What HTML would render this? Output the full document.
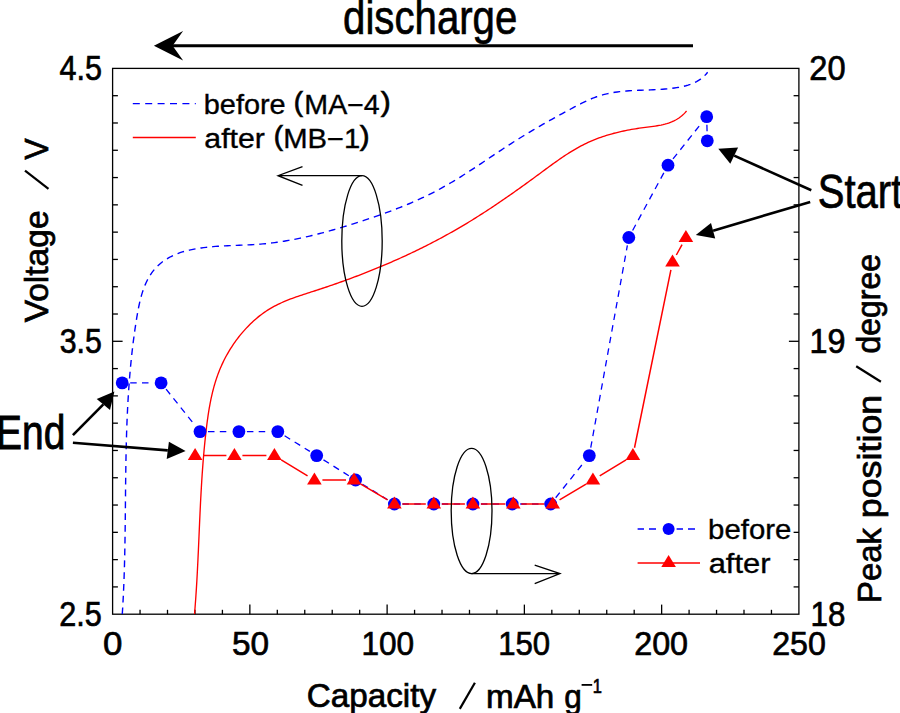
<!DOCTYPE html>
<html><head><meta charset="utf-8"><style>
html,body{margin:0;padding:0;background:#fff;}
body{width:900px;height:713px;overflow:hidden;}
svg{display:block;font-family:"Liberation Sans",sans-serif;}
text{stroke:#000;stroke-width:0.7px;}
</style></head><body>
<svg width="900" height="713" viewBox="0 0 900 713">
<rect x="112.6" y="68.4" width="686.30" height="545.80" fill="none" stroke="#000" stroke-width="1.3"/>
<line x1="140.05" y1="614.2" x2="140.05" y2="609.80" stroke="#000" stroke-width="1.3"/>
<line x1="167.50" y1="614.2" x2="167.50" y2="609.80" stroke="#000" stroke-width="1.3"/>
<line x1="194.96" y1="614.2" x2="194.96" y2="609.80" stroke="#000" stroke-width="1.3"/>
<line x1="222.41" y1="614.2" x2="222.41" y2="609.80" stroke="#000" stroke-width="1.3"/>
<line x1="249.86" y1="614.2" x2="249.86" y2="604.60" stroke="#000" stroke-width="1.3"/>
<line x1="277.31" y1="614.2" x2="277.31" y2="609.80" stroke="#000" stroke-width="1.3"/>
<line x1="304.76" y1="614.2" x2="304.76" y2="609.80" stroke="#000" stroke-width="1.3"/>
<line x1="332.22" y1="614.2" x2="332.22" y2="609.80" stroke="#000" stroke-width="1.3"/>
<line x1="359.67" y1="614.2" x2="359.67" y2="609.80" stroke="#000" stroke-width="1.3"/>
<line x1="387.12" y1="614.2" x2="387.12" y2="604.60" stroke="#000" stroke-width="1.3"/>
<line x1="414.57" y1="614.2" x2="414.57" y2="609.80" stroke="#000" stroke-width="1.3"/>
<line x1="442.02" y1="614.2" x2="442.02" y2="609.80" stroke="#000" stroke-width="1.3"/>
<line x1="469.48" y1="614.2" x2="469.48" y2="609.80" stroke="#000" stroke-width="1.3"/>
<line x1="496.93" y1="614.2" x2="496.93" y2="609.80" stroke="#000" stroke-width="1.3"/>
<line x1="524.38" y1="614.2" x2="524.38" y2="604.60" stroke="#000" stroke-width="1.3"/>
<line x1="551.83" y1="614.2" x2="551.83" y2="609.80" stroke="#000" stroke-width="1.3"/>
<line x1="579.28" y1="614.2" x2="579.28" y2="609.80" stroke="#000" stroke-width="1.3"/>
<line x1="606.74" y1="614.2" x2="606.74" y2="609.80" stroke="#000" stroke-width="1.3"/>
<line x1="634.19" y1="614.2" x2="634.19" y2="609.80" stroke="#000" stroke-width="1.3"/>
<line x1="661.64" y1="614.2" x2="661.64" y2="604.60" stroke="#000" stroke-width="1.3"/>
<line x1="689.09" y1="614.2" x2="689.09" y2="609.80" stroke="#000" stroke-width="1.3"/>
<line x1="716.54" y1="614.2" x2="716.54" y2="609.80" stroke="#000" stroke-width="1.3"/>
<line x1="744.00" y1="614.2" x2="744.00" y2="609.80" stroke="#000" stroke-width="1.3"/>
<line x1="771.45" y1="614.2" x2="771.45" y2="609.80" stroke="#000" stroke-width="1.3"/>
<line x1="112.6" y1="586.91" x2="117.90" y2="586.91" stroke="#000" stroke-width="1.3"/>
<line x1="798.9" y1="586.91" x2="793.60" y2="586.91" stroke="#000" stroke-width="1.3"/>
<line x1="112.6" y1="559.62" x2="117.90" y2="559.62" stroke="#000" stroke-width="1.3"/>
<line x1="798.9" y1="559.62" x2="793.60" y2="559.62" stroke="#000" stroke-width="1.3"/>
<line x1="112.6" y1="532.33" x2="117.90" y2="532.33" stroke="#000" stroke-width="1.3"/>
<line x1="798.9" y1="532.33" x2="793.60" y2="532.33" stroke="#000" stroke-width="1.3"/>
<line x1="112.6" y1="505.04" x2="117.90" y2="505.04" stroke="#000" stroke-width="1.3"/>
<line x1="798.9" y1="505.04" x2="793.60" y2="505.04" stroke="#000" stroke-width="1.3"/>
<line x1="112.6" y1="477.75" x2="117.90" y2="477.75" stroke="#000" stroke-width="1.3"/>
<line x1="798.9" y1="477.75" x2="793.60" y2="477.75" stroke="#000" stroke-width="1.3"/>
<line x1="112.6" y1="450.46" x2="117.90" y2="450.46" stroke="#000" stroke-width="1.3"/>
<line x1="798.9" y1="450.46" x2="793.60" y2="450.46" stroke="#000" stroke-width="1.3"/>
<line x1="112.6" y1="423.17" x2="117.90" y2="423.17" stroke="#000" stroke-width="1.3"/>
<line x1="798.9" y1="423.17" x2="793.60" y2="423.17" stroke="#000" stroke-width="1.3"/>
<line x1="112.6" y1="395.88" x2="117.90" y2="395.88" stroke="#000" stroke-width="1.3"/>
<line x1="798.9" y1="395.88" x2="793.60" y2="395.88" stroke="#000" stroke-width="1.3"/>
<line x1="112.6" y1="368.59" x2="117.90" y2="368.59" stroke="#000" stroke-width="1.3"/>
<line x1="798.9" y1="368.59" x2="793.60" y2="368.59" stroke="#000" stroke-width="1.3"/>
<line x1="112.6" y1="341.30" x2="122.60" y2="341.30" stroke="#000" stroke-width="1.3"/>
<line x1="798.9" y1="341.30" x2="788.90" y2="341.30" stroke="#000" stroke-width="1.3"/>
<line x1="112.6" y1="314.01" x2="117.90" y2="314.01" stroke="#000" stroke-width="1.3"/>
<line x1="798.9" y1="314.01" x2="793.60" y2="314.01" stroke="#000" stroke-width="1.3"/>
<line x1="112.6" y1="286.72" x2="117.90" y2="286.72" stroke="#000" stroke-width="1.3"/>
<line x1="798.9" y1="286.72" x2="793.60" y2="286.72" stroke="#000" stroke-width="1.3"/>
<line x1="112.6" y1="259.43" x2="117.90" y2="259.43" stroke="#000" stroke-width="1.3"/>
<line x1="798.9" y1="259.43" x2="793.60" y2="259.43" stroke="#000" stroke-width="1.3"/>
<line x1="112.6" y1="232.14" x2="117.90" y2="232.14" stroke="#000" stroke-width="1.3"/>
<line x1="798.9" y1="232.14" x2="793.60" y2="232.14" stroke="#000" stroke-width="1.3"/>
<line x1="112.6" y1="204.85" x2="117.90" y2="204.85" stroke="#000" stroke-width="1.3"/>
<line x1="798.9" y1="204.85" x2="793.60" y2="204.85" stroke="#000" stroke-width="1.3"/>
<line x1="112.6" y1="177.56" x2="117.90" y2="177.56" stroke="#000" stroke-width="1.3"/>
<line x1="798.9" y1="177.56" x2="793.60" y2="177.56" stroke="#000" stroke-width="1.3"/>
<line x1="112.6" y1="150.27" x2="117.90" y2="150.27" stroke="#000" stroke-width="1.3"/>
<line x1="798.9" y1="150.27" x2="793.60" y2="150.27" stroke="#000" stroke-width="1.3"/>
<line x1="112.6" y1="122.98" x2="117.90" y2="122.98" stroke="#000" stroke-width="1.3"/>
<line x1="798.9" y1="122.98" x2="793.60" y2="122.98" stroke="#000" stroke-width="1.3"/>
<line x1="112.6" y1="95.69" x2="117.90" y2="95.69" stroke="#000" stroke-width="1.3"/>
<line x1="798.9" y1="95.69" x2="793.60" y2="95.69" stroke="#000" stroke-width="1.3"/>
<defs><clipPath id="cp"><rect x="112.6" y="68.4" width="686.3" height="545.8000000000001"/></clipPath></defs>
<path d="M122.27,614.32 L122.42,611.91 L122.57,609.50 L122.72,607.09 L122.86,604.68 L122.99,602.28 L123.12,599.87 L123.24,597.47 L123.36,595.07 L123.47,592.67 L123.58,590.27 L123.68,587.87 L123.78,585.48 L123.88,583.08 L123.97,580.69 L124.06,578.30 L124.14,575.91 L124.22,573.52 L124.30,571.13 L124.37,568.74 L124.44,566.36 L124.50,563.97 L124.57,561.59 L124.62,559.21 L124.68,556.82 L124.73,554.44 L124.78,552.06 L124.83,549.69 L124.88,547.31 L124.92,544.93 L124.96,542.56 L125.00,540.18 L125.04,537.81 L125.07,535.44 L125.11,533.06 L125.14,530.69 L125.17,528.32 L125.20,525.95 L125.23,523.58 L125.25,521.21 L125.28,518.85 L125.30,516.48 L125.33,514.11 L125.35,511.75 L125.37,509.38 L125.40,507.02 L125.42,504.65 L125.44,502.29 L125.46,499.92 L125.48,497.56 L125.51,495.20 L125.53,492.84 L125.55,490.47 L125.58,488.11 L125.60,485.75 L125.63,483.39 L125.65,481.03 L125.68,478.67 L125.71,476.31 L125.74,473.95 L125.77,471.59 L125.81,469.23 L125.84,466.87 L125.88,464.51 L125.92,462.15 L125.96,459.79 L126.00,457.43 L126.04,455.07 L126.09,452.71 L126.14,450.35 L126.20,447.99 L126.25,445.63 L126.31,443.27 L126.37,440.90 L126.44,438.54 L126.51,436.18 L126.58,433.82 L126.65,431.46 L126.73,429.10 L126.81,426.73 L126.90,424.37 L126.99,422.01 L127.09,419.64 L127.19,417.28 L127.29,414.91 L127.40,412.55 L127.51,410.18 L127.63,407.82 L127.75,405.45 L127.88,403.08 L128.01,400.71 L128.15,398.34 L128.29,395.97 L128.44,393.60 L128.59,391.23 L128.75,388.86 L128.92,386.49 L129.09,384.11 L129.27,381.74 L129.45,379.36 L129.65,376.99 L129.84,374.61 L130.05,372.23 L130.26,369.85 L130.47,367.47 L130.70,365.09 L130.93,362.71 L131.17,360.32 L131.42,357.94 L131.67,355.55 L131.93,353.17 L132.20,350.78 L132.48,348.39 L132.76,346.00 L133.05,343.60 L133.35,341.21 L133.66,338.82 L133.98,336.42 L134.31,334.02 L134.64,331.62 L134.99,329.22 L135.34,326.82 L135.70,324.42 L136.07,322.02 L136.45,319.61 L136.84,317.20 L137.25,314.80 L137.67,312.39 L138.11,310.00 L138.57,307.61 L139.06,305.24 L139.57,302.88 L140.12,300.54 L140.71,298.22 L141.33,295.92 L142.00,293.65 L142.71,291.40 L143.47,289.19 L144.28,287.01 L145.15,284.87 L146.08,282.76 L147.06,280.70 L148.12,278.68 L149.24,276.71 L150.43,274.78 L151.70,272.91 L153.04,271.10 L154.46,269.34 L155.97,267.64 L157.57,266.01 L159.26,264.44 L161.04,262.94 L162.90,261.50 L164.84,260.14 L166.86,258.85 L168.93,257.64 L171.07,256.50 L173.25,255.43 L175.48,254.44 L177.74,253.53 L180.03,252.70 L182.35,251.94 L184.69,251.26 L187.04,250.65 L189.40,250.09 L191.76,249.58 L194.13,249.11 L196.50,248.69 L198.87,248.30 L201.25,247.94 L203.62,247.62 L205.99,247.33 L208.37,247.06 L210.74,246.83 L213.12,246.61 L215.49,246.42 L217.87,246.25 L220.25,246.10 L222.62,245.96 L225.00,245.84 L227.38,245.72 L229.75,245.62 L232.13,245.52 L234.50,245.43 L236.88,245.34 L239.25,245.25 L241.62,245.16 L243.99,245.06 L246.36,244.96 L248.73,244.85 L251.10,244.73 L253.46,244.60 L255.83,244.45 L258.19,244.29 L260.55,244.10 L262.91,243.90 L265.26,243.68 L267.62,243.43 L269.97,243.17 L272.32,242.89 L274.67,242.59 L277.02,242.27 L279.36,241.93 L281.70,241.57 L284.04,241.20 L286.38,240.81 L288.72,240.41 L291.05,239.98 L293.38,239.55 L295.71,239.09 L298.04,238.62 L300.36,238.14 L302.69,237.64 L305.01,237.13 L307.33,236.61 L309.64,236.07 L311.96,235.52 L314.27,234.95 L316.58,234.38 L318.89,233.79 L321.20,233.19 L323.50,232.58 L325.80,231.96 L328.10,231.33 L330.40,230.69 L332.70,230.04 L334.99,229.39 L337.28,228.72 L339.57,228.04 L341.85,227.36 L344.14,226.67 L346.42,225.97 L348.70,225.26 L350.98,224.55 L353.25,223.83 L355.52,223.11 L357.79,222.38 L360.06,221.65 L362.33,220.91 L364.59,220.17 L366.85,219.42 L369.11,218.66 L371.36,217.90 L373.61,217.14 L375.86,216.36 L378.11,215.58 L380.35,214.79 L382.58,214.00 L384.82,213.19 L387.05,212.38 L389.27,211.56 L391.49,210.73 L393.71,209.89 L395.92,209.04 L398.13,208.19 L400.33,207.32 L402.53,206.44 L404.72,205.55 L406.91,204.64 L409.09,203.73 L411.26,202.80 L413.43,201.87 L415.59,200.91 L417.75,199.95 L419.90,198.97 L422.04,197.98 L424.18,196.97 L426.31,195.95 L428.43,194.92 L430.55,193.87 L432.65,192.80 L434.75,191.72 L436.85,190.62 L438.93,189.51 L441.01,188.38 L443.08,187.23 L445.14,186.07 L447.20,184.89 L449.25,183.70 L451.29,182.50 L453.32,181.28 L455.35,180.05 L457.38,178.81 L459.40,177.56 L461.41,176.30 L463.43,175.03 L465.43,173.75 L467.43,172.47 L469.43,171.17 L471.43,169.87 L473.42,168.57 L475.41,167.26 L477.40,165.94 L479.39,164.62 L481.37,163.30 L483.35,161.97 L485.33,160.65 L487.32,159.32 L489.30,157.99 L491.28,156.66 L493.26,155.34 L495.24,154.01 L497.22,152.69 L499.20,151.37 L501.19,150.05 L503.17,148.74 L505.16,147.43 L507.15,146.13 L509.14,144.84 L511.14,143.55 L513.14,142.27 L515.14,141.00 L517.15,139.73 L519.16,138.48 L521.18,137.23 L523.19,135.99 L525.22,134.76 L527.24,133.54 L529.27,132.32 L531.31,131.11 L533.34,129.91 L535.39,128.71 L537.43,127.52 L539.48,126.34 L541.53,125.15 L543.59,123.98 L545.65,122.81 L547.72,121.64 L549.79,120.48 L551.86,119.32 L553.94,118.16 L556.02,117.01 L558.10,115.86 L560.19,114.71 L562.28,113.56 L564.38,112.42 L566.48,111.28 L568.59,110.14 L570.69,109.00 L572.81,107.86 L574.93,106.73 L577.05,105.61 L579.18,104.50 L581.32,103.42 L583.47,102.36 L585.63,101.33 L587.80,100.33 L589.98,99.37 L592.17,98.46 L594.38,97.59 L596.60,96.77 L598.83,96.01 L601.08,95.32 L603.35,94.68 L605.64,94.10 L607.93,93.58 L610.25,93.11 L612.57,92.69 L614.91,92.31 L617.25,91.97 L619.61,91.68 L621.97,91.42 L624.35,91.19 L626.73,90.99 L629.11,90.81 L631.50,90.66 L633.90,90.53 L636.30,90.41 L638.70,90.31 L641.10,90.21 L643.51,90.12 L645.91,90.04 L648.31,89.95 L650.71,89.86 L653.11,89.76 L655.50,89.65 L657.89,89.53 L660.27,89.39 L662.65,89.23 L665.02,89.05 L667.38,88.84 L669.73,88.60 L672.07,88.33 L674.40,88.02 L676.72,87.67 L679.02,87.28 L681.31,86.84 L683.58,86.34 L685.83,85.79 L688.05,85.15 L690.24,84.43 L692.40,83.61 L694.51,82.68 L696.57,81.63 L698.58,80.45 L700.53,79.13 L702.42,77.65 L704.24,76.02 L705.99,74.20 L707.66,72.21" fill="none" stroke="#00f" stroke-width="1.4" stroke-dasharray="6.8 5" clip-path="url(#cp)"/>
<path d="M194.51,614.21 L194.67,612.22 L194.84,610.23 L195.00,608.24 L195.15,606.25 L195.30,604.27 L195.45,602.28 L195.60,600.29 L195.74,598.30 L195.88,596.31 L196.01,594.33 L196.14,592.34 L196.27,590.35 L196.40,588.36 L196.52,586.38 L196.64,584.39 L196.76,582.40 L196.87,580.42 L196.98,578.43 L197.09,576.45 L197.20,574.46 L197.31,572.47 L197.41,570.49 L197.51,568.50 L197.61,566.52 L197.71,564.53 L197.81,562.55 L197.91,560.56 L198.00,558.58 L198.09,556.59 L198.18,554.61 L198.28,552.62 L198.37,550.64 L198.45,548.65 L198.54,546.67 L198.63,544.69 L198.72,542.70 L198.80,540.72 L198.89,538.73 L198.98,536.75 L199.06,534.77 L199.15,532.78 L199.24,530.80 L199.32,528.82 L199.41,526.83 L199.50,524.85 L199.58,522.87 L199.67,520.88 L199.76,518.90 L199.85,516.92 L199.94,514.94 L200.03,512.95 L200.13,510.97 L200.22,508.99 L200.32,507.01 L200.41,505.02 L200.51,503.04 L200.61,501.06 L200.72,499.08 L200.82,497.09 L200.93,495.11 L201.03,493.13 L201.14,491.15 L201.26,489.17 L201.37,487.18 L201.49,485.20 L201.61,483.22 L201.73,481.24 L201.86,479.26 L201.99,477.27 L202.12,475.29 L202.25,473.31 L202.39,471.33 L202.53,469.35 L202.68,467.36 L202.83,465.38 L202.98,463.40 L203.13,461.42 L203.29,459.44 L203.46,457.45 L203.63,455.47 L203.80,453.49 L203.97,451.51 L204.15,449.53 L204.34,447.54 L204.53,445.56 L204.72,443.58 L204.92,441.60 L205.13,439.61 L205.33,437.63 L205.55,435.65 L205.77,433.67 L205.99,431.69 L206.22,429.70 L206.46,427.72 L206.70,425.74 L206.95,423.76 L207.21,421.78 L207.47,419.80 L207.75,417.82 L208.03,415.84 L208.33,413.87 L208.64,411.90 L208.96,409.93 L209.29,407.97 L209.63,406.01 L209.99,404.05 L210.37,402.10 L210.76,400.15 L211.16,398.20 L211.58,396.27 L212.03,394.33 L212.48,392.40 L212.96,390.48 L213.46,388.57 L213.98,386.66 L214.52,384.76 L215.08,382.86 L215.66,380.98 L216.27,379.10 L216.90,377.23 L217.56,375.36 L218.24,373.51 L218.94,371.67 L219.68,369.83 L220.44,368.01 L221.23,366.19 L222.04,364.39 L222.88,362.60 L223.74,360.82 L224.64,359.05 L225.55,357.29 L226.50,355.54 L227.47,353.81 L228.46,352.09 L229.48,350.39 L230.53,348.69 L231.60,347.02 L232.69,345.35 L233.81,343.70 L234.95,342.07 L236.12,340.45 L237.32,338.85 L238.53,337.27 L239.77,335.70 L241.04,334.15 L242.33,332.62 L243.64,331.10 L244.97,329.61 L246.33,328.13 L247.71,326.67 L249.12,325.23 L250.55,323.82 L251.99,322.43 L253.47,321.06 L254.96,319.73 L256.47,318.42 L258.01,317.13 L259.56,315.88 L261.14,314.67 L262.74,313.48 L264.35,312.33 L265.99,311.21 L267.64,310.14 L269.32,309.10 L271.01,308.09 L272.72,307.12 L274.45,306.19 L276.19,305.28 L277.95,304.41 L279.72,303.56 L281.51,302.74 L283.31,301.95 L285.12,301.18 L286.94,300.43 L288.77,299.70 L290.61,298.99 L292.46,298.30 L294.32,297.62 L296.19,296.96 L298.06,296.31 L299.94,295.67 L301.83,295.04 L303.71,294.42 L305.61,293.80 L307.50,293.19 L309.40,292.58 L311.29,291.97 L313.19,291.36 L315.09,290.74 L316.98,290.13 L318.88,289.51 L320.77,288.88 L322.66,288.26 L324.55,287.62 L326.44,286.99 L328.33,286.35 L330.21,285.70 L332.10,285.06 L333.98,284.40 L335.86,283.75 L337.74,283.09 L339.62,282.42 L341.50,281.75 L343.37,281.08 L345.24,280.41 L347.12,279.72 L348.98,279.04 L350.85,278.35 L352.72,277.65 L354.58,276.95 L356.44,276.25 L358.31,275.54 L360.16,274.83 L362.02,274.12 L363.88,273.39 L365.73,272.67 L367.58,271.94 L369.43,271.20 L371.27,270.47 L373.12,269.72 L374.96,268.97 L376.80,268.22 L378.64,267.46 L380.47,266.70 L382.31,265.93 L384.14,265.16 L385.97,264.38 L387.80,263.60 L389.62,262.82 L391.44,262.03 L393.26,261.23 L395.08,260.43 L396.90,259.62 L398.71,258.81 L400.52,257.99 L402.33,257.17 L404.13,256.35 L405.93,255.52 L407.73,254.68 L409.53,253.84 L411.32,252.99 L413.12,252.14 L414.91,251.28 L416.69,250.42 L418.48,249.56 L420.26,248.68 L422.04,247.81 L423.81,246.92 L425.58,246.03 L427.35,245.14 L429.12,244.24 L430.88,243.34 L432.65,242.43 L434.40,241.51 L436.16,240.59 L437.91,239.66 L439.66,238.73 L441.41,237.79 L443.15,236.85 L444.89,235.90 L446.62,234.95 L448.36,233.99 L450.09,233.02 L451.81,232.05 L453.54,231.07 L455.26,230.09 L456.98,229.10 L458.69,228.11 L460.40,227.11 L462.11,226.10 L463.81,225.09 L465.51,224.07 L467.21,223.05 L468.90,222.02 L470.59,220.99 L472.28,219.95 L473.97,218.91 L475.65,217.86 L477.33,216.80 L479.00,215.74 L480.68,214.68 L482.35,213.61 L484.02,212.53 L485.68,211.45 L487.35,210.37 L489.01,209.28 L490.67,208.19 L492.32,207.09 L493.98,205.99 L495.63,204.88 L497.28,203.77 L498.93,202.66 L500.57,201.54 L502.22,200.42 L503.86,199.29 L505.50,198.16 L507.14,197.03 L508.78,195.89 L510.41,194.75 L512.04,193.60 L513.68,192.46 L515.31,191.30 L516.94,190.15 L518.57,188.99 L520.19,187.83 L521.82,186.67 L523.44,185.50 L525.07,184.33 L526.69,183.16 L528.31,181.98 L529.93,180.80 L531.55,179.62 L533.17,178.44 L534.78,177.25 L536.40,176.07 L538.02,174.88 L539.63,173.68 L541.25,172.49 L542.87,171.30 L544.48,170.10 L546.10,168.91 L547.72,167.72 L549.34,166.53 L550.96,165.35 L552.59,164.17 L554.21,163.00 L555.85,161.83 L557.48,160.68 L559.12,159.53 L560.77,158.39 L562.42,157.27 L564.07,156.16 L565.73,155.06 L567.40,153.97 L569.08,152.91 L570.76,151.85 L572.45,150.82 L574.15,149.80 L575.86,148.81 L577.57,147.83 L579.30,146.88 L581.04,145.95 L582.78,145.04 L584.54,144.16 L586.31,143.30 L588.09,142.47 L589.88,141.66 L591.68,140.88 L593.49,140.12 L595.31,139.39 L597.14,138.68 L598.98,137.99 L600.83,137.32 L602.69,136.68 L604.56,136.06 L606.43,135.46 L608.32,134.89 L610.21,134.33 L612.11,133.79 L614.01,133.27 L615.93,132.78 L617.85,132.30 L619.78,131.84 L621.71,131.40 L623.65,130.98 L625.60,130.57 L627.55,130.18 L629.51,129.81 L631.47,129.46 L633.44,129.12 L635.41,128.80 L637.39,128.49 L639.37,128.20 L641.36,127.92 L643.35,127.66 L645.34,127.40 L647.33,127.16 L649.32,126.91 L651.30,126.65 L653.28,126.38 L655.25,126.09 L657.21,125.78 L659.15,125.44 L661.08,125.06 L662.99,124.63 L664.87,124.16 L666.74,123.64 L668.58,123.06 L670.40,122.41 L672.18,121.69 L673.93,120.89 L675.65,120.01 L677.34,119.04 L678.98,117.97 L680.58,116.80 L682.15,115.53 L683.66,114.14 L685.13,112.64 L686.55,111.01" fill="none" stroke="#f00" stroke-width="1.35" clip-path="url(#cp)"/>
<path d="M130.20,382.90 L153.10,382.90 M166.09,389.15 L195.01,425.35 M208.00,431.60 L230.90,431.60 M246.90,431.60 L269.80,431.60 M284.61,435.80 L309.89,451.40 M323.48,459.85 L348.82,475.75 M362.40,484.21 L387.60,499.79 M402.40,504.00 L425.80,504.00 M441.80,504.00 L464.90,504.00 M480.90,504.00 L504.20,504.00 M520.20,504.00 L542.70,504.00 M555.69,497.75 L584.31,461.85 M590.73,447.73 L627.37,245.37 M632.61,230.47 L664.19,172.23 M672.99,158.95 L701.71,122.95 M706.90,124.70 L707.10,132.80 " fill="none" stroke="#00f" stroke-width="1.3" stroke-dasharray="6.5 5.3"/>
<path d="M203.10,455.60 L226.40,455.60 M242.40,455.60 L266.40,455.60 M281.23,459.77 L307.57,475.83 M322.40,480.00 L346.00,480.00 M360.88,484.09 L387.52,499.91 M402.40,504.00 L425.80,504.00 M441.80,504.00 L464.90,504.00 M480.90,504.00 L505.30,504.00 M521.30,504.00 L544.70,504.00 M559.57,499.90 L586.03,484.10 M599.73,475.83 L626.07,459.77 M634.50,447.76 L670.90,269.84 M676.35,254.99 L682.05,244.61 " fill="none" stroke="#f00" stroke-width="1.5"/>
<circle cx="122.2" cy="382.9" r="6.4" fill="#00f"/>
<circle cx="161.1" cy="382.9" r="6.4" fill="#00f"/>
<circle cx="200" cy="431.6" r="6.4" fill="#00f"/>
<circle cx="238.9" cy="431.6" r="6.4" fill="#00f"/>
<circle cx="277.8" cy="431.6" r="6.4" fill="#00f"/>
<circle cx="316.7" cy="455.6" r="6.4" fill="#00f"/>
<circle cx="355.6" cy="480" r="6.4" fill="#00f"/>
<circle cx="394.4" cy="504" r="6.4" fill="#00f"/>
<circle cx="433.8" cy="504" r="6.4" fill="#00f"/>
<circle cx="472.9" cy="504" r="6.4" fill="#00f"/>
<circle cx="512.2" cy="504" r="6.4" fill="#00f"/>
<circle cx="550.7" cy="504" r="6.4" fill="#00f"/>
<circle cx="589.3" cy="455.6" r="6.4" fill="#00f"/>
<circle cx="628.8" cy="237.5" r="6.4" fill="#00f"/>
<circle cx="668" cy="165.2" r="6.4" fill="#00f"/>
<circle cx="706.7" cy="116.7" r="6.4" fill="#00f"/>
<circle cx="707.3" cy="140.8" r="6.4" fill="#00f"/>
<path d="M195.10,448.10 L202.40,460.10 L187.80,460.10 Z" fill="#f00"/>
<path d="M234.40,448.10 L241.70,460.10 L227.10,460.10 Z" fill="#f00"/>
<path d="M274.40,448.10 L281.70,460.10 L267.10,460.10 Z" fill="#f00"/>
<path d="M314.40,472.50 L321.70,484.50 L307.10,484.50 Z" fill="#f00"/>
<path d="M354.00,472.50 L361.30,484.50 L346.70,484.50 Z" fill="#f00"/>
<path d="M394.40,496.50 L401.70,508.50 L387.10,508.50 Z" fill="#f00"/>
<path d="M433.80,496.50 L441.10,508.50 L426.50,508.50 Z" fill="#f00"/>
<path d="M472.90,496.50 L480.20,508.50 L465.60,508.50 Z" fill="#f00"/>
<path d="M513.30,496.50 L520.60,508.50 L506.00,508.50 Z" fill="#f00"/>
<path d="M552.70,496.50 L560.00,508.50 L545.40,508.50 Z" fill="#f00"/>
<path d="M592.90,472.50 L600.20,484.50 L585.60,484.50 Z" fill="#f00"/>
<path d="M632.90,448.10 L640.20,460.10 L625.60,460.10 Z" fill="#f00"/>
<path d="M672.50,254.50 L679.80,266.50 L665.20,266.50 Z" fill="#f00"/>
<path d="M685.90,230.10 L693.20,242.10 L678.60,242.10 Z" fill="#f00"/>
<ellipse cx="362" cy="241" rx="20.2" ry="65.3" fill="none" stroke="#000" stroke-width="1.3"/>
<path d="M362,175.7 L278,175.7 M302.5,166.7 L278,175.7 L302.5,185.4" fill="none" stroke="#000" stroke-width="1.3"/>
<ellipse cx="471.6" cy="511" rx="20.4" ry="62.6" fill="none" stroke="#000" stroke-width="1.3"/>
<path d="M471.4,573.6 L560,573.6 M534.7,565.1 L560,573.6 L534.7,583.7" fill="none" stroke="#000" stroke-width="1.3"/>
<line x1="172" y1="45.7" x2="693" y2="45.7" stroke="#000" stroke-width="3"/>
<path d="M153.9,45.8 L183.1,31.1 L172.6,45.8 L183.1,60.4 Z" fill="#000"/>
<line x1="811.3" y1="190.2" x2="734.20" y2="155.65" stroke="#000" stroke-width="2.6"/><path d="M718.3,148.7 L738.1,147.5 L730.3,163.8 Z" fill="#000"/>
<line x1="810.2" y1="201.9" x2="713.10" y2="230.70" stroke="#000" stroke-width="2.6"/><path d="M695.8,235 L711,222.9 L715.2,238.5 Z" fill="#000"/>
<line x1="72.9" y1="435.1" x2="103.35" y2="404.45" stroke="#000" stroke-width="2.6"/><path d="M114.4,391.6 L96.7,398.9 L110,410 Z" fill="#000"/>
<line x1="72.9" y1="442.7" x2="167.80" y2="450.35" stroke="#000" stroke-width="2.6"/><path d="M185.6,451.1 L168.9,441.8 L166.7,458.9 Z" fill="#000"/>
<line x1="132.8" y1="103.6" x2="195.8" y2="103.6" stroke="#00f" stroke-width="1.4" stroke-dasharray="7 5.4"/>
<line x1="132.8" y1="137.5" x2="195.8" y2="137.5" stroke="#f00" stroke-width="1.4"/>
<path d="M637.6,529 H644 M649,529 H656 M676.6,529 H683 M688,529 H695" stroke="#00f" stroke-width="1.4" fill="none"/>
<circle cx="668.6" cy="529" r="6" fill="#00f"/>
<line x1="637.6" y1="563" x2="700" y2="563" stroke="#f00" stroke-width="1.4"/>
<path d="M668.60,555.10 L675.90,567.10 L661.30,567.10 Z" fill="#f00"/>
<text x="343.11" y="33.80" font-size="48.5" textLength="174.17" lengthAdjust="spacingAndGlyphs" fill="#000" >discharge</text>
<text x="59.50" y="80.20" font-size="35" textLength="42.48" lengthAdjust="spacingAndGlyphs" fill="#000" >4.5</text>
<text x="59.75" y="352.60" font-size="35" textLength="42.13" lengthAdjust="spacingAndGlyphs" fill="#000" >3.5</text>
<text x="59.36" y="626.20" font-size="35" textLength="42.52" lengthAdjust="spacingAndGlyphs" fill="#000" >2.5</text>
<text x="809.36" y="79.90" font-size="35" textLength="36.32" lengthAdjust="spacingAndGlyphs" fill="#000" >20</text>
<text x="809.53" y="352.60" font-size="35" textLength="36.00" lengthAdjust="spacingAndGlyphs" fill="#000" >19</text>
<text x="810.61" y="626.10" font-size="35" textLength="34.85" lengthAdjust="spacingAndGlyphs" fill="#000" >18</text>
<text x="103.04" y="655.20" font-size="34" textLength="19.43" lengthAdjust="spacingAndGlyphs" fill="#000" >0</text>
<text x="231.96" y="655.20" font-size="34" textLength="37.14" lengthAdjust="spacingAndGlyphs" fill="#000" >50</text>
<text x="361.39" y="655.20" font-size="34" textLength="52.74" lengthAdjust="spacingAndGlyphs" fill="#000" >100</text>
<text x="498.13" y="655.20" font-size="34" textLength="51.99" lengthAdjust="spacingAndGlyphs" fill="#000" >150</text>
<text x="634.18" y="655.20" font-size="34" textLength="53.89" lengthAdjust="spacingAndGlyphs" fill="#000" >200</text>
<text x="772.18" y="655.20" font-size="34" textLength="53.67" lengthAdjust="spacingAndGlyphs" fill="#000" >250</text>
<text x="306.81" y="707.30" font-size="33" textLength="129.25" lengthAdjust="spacingAndGlyphs" fill="#000" >Capacity</text>
<line x1="459.8" y1="708.9" x2="474.9" y2="682.8" stroke="#000" stroke-width="2.2"/>
<text x="485.99" y="708.00" font-size="33" textLength="68.37" lengthAdjust="spacingAndGlyphs" fill="#000" >mAh</text>
<text x="564.27" y="708.00" font-size="33" textLength="17.56" lengthAdjust="spacingAndGlyphs" fill="#000" >g</text>
<rect x="581.6" y="684" width="10.6" height="1.8" fill="#000"/>
<text x="592.75" y="692.90" font-size="21" textLength="9.16" lengthAdjust="spacingAndGlyphs" fill="#000" >1</text>
<text transform="translate(48.30,322.35) rotate(-90)" x="0" y="0" font-size="33" textLength="111.94" lengthAdjust="spacingAndGlyphs" fill="#000">Voltage</text>
<line x1="48.5" y1="188.9" x2="25" y2="170.7" stroke="#000" stroke-width="2.2"/>
<text transform="translate(48.30,159.64) rotate(-90)" x="0" y="0" font-size="33" textLength="21.38" lengthAdjust="spacingAndGlyphs" fill="#000">V</text>
<text transform="translate(880.50,602.89) rotate(-90)" x="0" y="0" font-size="33" textLength="74.85" lengthAdjust="spacingAndGlyphs" fill="#000">Peak</text>
<text transform="translate(880.50,518.31) rotate(-90)" x="0" y="0" font-size="33" textLength="123.64" lengthAdjust="spacingAndGlyphs" fill="#000">position</text>
<line x1="880.9" y1="381.7" x2="856.2" y2="366.2" stroke="#000" stroke-width="2.2"/>
<text transform="translate(880.00,353.54) rotate(-90)" x="0" y="0" font-size="33" textLength="99.56" lengthAdjust="spacingAndGlyphs" fill="#000">degree</text>
<text x="203.74" y="114.10" font-size="27" textLength="81.95" lengthAdjust="spacingAndGlyphs" fill="#000" style="stroke-width:0.35px">before</text>
<text x="293.87" y="111.00" font-size="27" textLength="9.29" lengthAdjust="spacingAndGlyphs" fill="#000" >(</text>
<text x="304.36" y="114.10" font-size="27" textLength="75.38" lengthAdjust="spacingAndGlyphs" fill="#000" style="stroke-width:0.35px">MA−4</text>
<text x="380.83" y="111.00" font-size="27" textLength="9.92" lengthAdjust="spacingAndGlyphs" fill="#000" >)</text>
<text x="204.31" y="147.90" font-size="27" textLength="60.59" lengthAdjust="spacingAndGlyphs" fill="#000" style="stroke-width:0.35px">after</text>
<text x="273.87" y="144.80" font-size="27" textLength="9.29" lengthAdjust="spacingAndGlyphs" fill="#000" >(</text>
<text x="283.20" y="147.90" font-size="27" textLength="77.12" lengthAdjust="spacingAndGlyphs" fill="#000" style="stroke-width:0.35px">MB−1</text>
<text x="359.83" y="144.80" font-size="27" textLength="9.80" lengthAdjust="spacingAndGlyphs" fill="#000" >)</text>
<text x="708.11" y="539.40" font-size="27" textLength="83.19" lengthAdjust="spacingAndGlyphs" fill="#000" style="stroke-width:0.35px">before</text>
<text x="708.69" y="573.00" font-size="27" textLength="61.83" lengthAdjust="spacingAndGlyphs" fill="#000" style="stroke-width:0.35px">after</text>
<text x="817.68" y="208.20" font-size="49" textLength="84.61" lengthAdjust="spacingAndGlyphs" fill="#000" >Start</text>
<text x="-4.00" y="448.60" font-size="48.5" textLength="69.31" lengthAdjust="spacingAndGlyphs" fill="#000" style="stroke-width:0.9px">End</text>
</svg>
</body></html>
